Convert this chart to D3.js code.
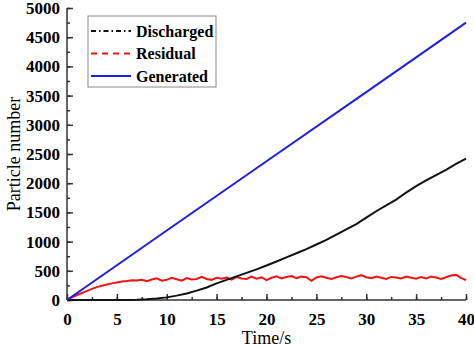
<!DOCTYPE html>
<html><head><meta charset="utf-8">
<script src="https://cdn.jsdelivr.net/npm/d3@7"></script>
<style>html,body{margin:0;padding:0;background:#fff;}svg{display:block;}</style>
</head><body>
<script>
// ---- data ----
const xTicks = [0,5,10,15,20,25,30,35,40];
const yTicks = [0,500,1000,1500,2000,2500,3000,3500,4000,4500,5000];
const seriesNames = ["Discharged","Residual","Generated"];

const generatedT = [0,10,20,30,40];
const generatedV = [0,1190,2375,3560,4750];

const dischargedT = [0,5.5,6,7,8,9,10,11,12,13,14,15,16,17,18,19,20,21,22,23,24,25,26,27,28,29,30,31,32,33,34,35,36,37,38,39,40];
const dischargedV = [0,0,2,5,12,25,45,75,110,160,215,285,345,405,465,525,590,660,730,800,870,950,1030,1120,1210,1300,1410,1520,1620,1720,1840,1950,2050,2140,2230,2330,2420];

const residualT = [0,0.5,1,1.5,2,2.5,3,3.5,4,4.5,5,5.5,6,6.5,7,7.5,8,8.5,9,9.5,10,10.5,11,11.5,12,12.5,13,13.5,14,14.5,15,15.5,16,16.5,17,17.5,18,18.5,19,19.5,20,20.5,21,21.5,22,22.5,23,23.5,24,24.5,25,25.5,26,26.5,27,27.5,28,28.5,29,29.5,30,30.5,31,31.5,32,32.5,33,33.5,34,34.5,35,35.5,36,36.5,37,37.5,38,38.5,39,39.5,40];
const residualV = [0,45,85,120,155,190,220,245,265,285,300,315,325,340,335,345,320,350,370,330,345,380,355,330,375,350,360,395,360,345,380,365,385,350,395,370,360,400,365,390,340,380,405,370,395,410,375,400,390,330,385,405,380,360,390,410,395,370,400,425,390,375,400,380,360,395,385,370,400,380,365,395,370,400,385,360,390,420,430,380,340];

// ---- layout ----
const W = 474, H = 347;
const x0 = 67, x1 = 466, y0 = 300, y1 = 8;
const svg = d3.select("body").append("svg").attr("width", W).attr("height", H);
const x = d3.scaleLinear().domain([0,40]).range([x0,x1]);
const y = d3.scaleLinear().domain([0,5000]).range([y0,y1]);
const font = "'Liberation Serif','Times New Roman',serif";

// minor ticks
const xMinor = d3.range(0,40.01,2.5);
const yMinor = d3.range(0,5000.1,250);

const gx = svg.append("g").attr("transform",`translate(0,${y0})`)
  .call(d3.axisBottom(x).tickValues(xMinor).tickSize(-3).tickFormat(""));
const gx2 = svg.append("g").attr("transform",`translate(0,${y0})`)
  .call(d3.axisBottom(x).tickValues(xTicks).tickSize(-6).tickPadding(13).tickFormat(d3.format("d")));
const gy = svg.append("g").attr("transform",`translate(${x0},0)`)
  .call(d3.axisLeft(y).tickValues(yMinor).tickSize(-3).tickFormat(""));
const gy2 = svg.append("g").attr("transform",`translate(${x0},0)`)
  .call(d3.axisLeft(y).tickValues(yTicks).tickSize(-6).tickPadding(7).tickFormat(d3.format("d")));
[gx,gx2,gy,gy2].forEach(g=>{
  g.selectAll("path").attr("stroke","#333").attr("stroke-width",1.5);
  g.selectAll("line").attr("stroke","#333").attr("stroke-width",1.5);
  g.selectAll("text").attr("fill","#000").style("font-family",font).style("font-size","17px").style("font-weight","bold");
});
gx.select("path").remove(); gy.select("path").remove();
gx2.select(".domain").attr("d",`M${x0},0H${x1}`);
gy2.select(".domain").attr("d",`M0,${y0}V${y1}`);

// lines
const line = d3.line().x(d=>x(d[0])).y(d=>y(d[1]));
const mk = (T,V)=>T.map((t,i)=>[t,V[i]]);
svg.append("path").datum(mk(residualT,residualV)).attr("d",line)
  .attr("fill","none").attr("stroke","#f01414").attr("stroke-width",2);
svg.append("path").datum(mk(dischargedT,dischargedV)).attr("d",line)
  .attr("fill","none").attr("stroke","#111").attr("stroke-width",2);
svg.append("path").datum(mk(generatedT,generatedV)).attr("d",line)
  .attr("fill","none").attr("stroke","#1e1ee0").attr("stroke-width",2);

// axis titles
svg.append("text").attr("x",(x0+x1)/2).attr("y",344).attr("text-anchor","middle")
  .style("font-family",font).style("font-size","18px").text("Time/s");
svg.append("text").attr("transform",`translate(20,${(y0+y1)/2}) rotate(-90)`).attr("text-anchor","middle")
  .style("font-family",font).style("font-size","18px").text("Particle number");

// legend
const lg = svg.append("g");
lg.append("rect").attr("x",88).attr("y",16).attr("width",128).attr("height",71)
  .attr("fill","#fff").attr("stroke","#888").attr("stroke-width",1);
const styles = [
  {c:"#111", dash:"5,3,1.5,3"},
  {c:"#f01414", dash:"6,5"},
  {c:"#1e1ee0", dash:null}
];
seriesNames.forEach((n,i)=>{
  const yy = 31 + i*22.5;
  const l = lg.append("line").attr("x1",91).attr("x2",131).attr("y1",yy).attr("y2",yy)
    .attr("stroke",styles[i].c).attr("stroke-width",2);
  if (styles[i].dash) l.attr("stroke-dasharray",styles[i].dash);
  lg.append("text").attr("x",136).attr("y",yy+5.5).style("font-family",font)
    .style("font-size","16px").style("font-weight","bold").text(n);
});
</script>
</body></html>
